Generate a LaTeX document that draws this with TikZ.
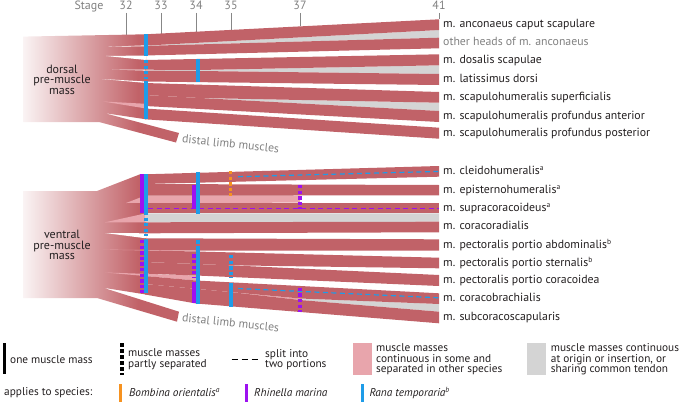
\documentclass[tikz,border=0pt]{standalone}
\usepackage{fontspec}
\setmainfont{PT Sans}
\definecolor{bandred}{RGB}{193,98,104}
\definecolor{pinkc}{RGB}{232,165,172}
\definecolor{grayc}{RGB}{212,212,212}
\definecolor{blueb}{RGB}{30,156,232}
\definecolor{purp}{RGB}{157,17,240}
\definecolor{orng}{RGB}{246,146,32}
\definecolor{tickg}{RGB}{135,135,135}
\definecolor{txtg}{RGB}{128,128,128}
\definecolor{ink}{RGB}{35,31,32}
\newcommand{\supx}[1]{\raisebox{4pt}{\fontsize{7.5}{7.5}\selectfont #1}}
\begin{document}
\begin{tikzpicture}[x=1pt,y=-1pt,
  txt/.style={inner sep=0pt, text=ink, font=\fontsize{11.8}{11.8}\selectfont, text height=8pt, text depth=2.7pt},
  lab/.style={txt, anchor=west},
  graylab/.style={lab, text=txtg},
  stagelab/.style={txt, text=txtg, font=\fontsize{12}{12}\selectfont},
  masslab/.style={inner sep=0pt, text=ink, align=center, font=\fontsize{12}{10.6}\selectfont},
  distlab/.style={lab, text=txtg, rotate=-6},
  legtxt/.style={inner sep=0pt, text=ink, anchor=west, align=left, font=\fontsize{11.3}{10.4}\selectfont},
  tickline/.style={draw=tickg, line width=0.8pt},
  bandfill/.style={fill=bandred},
  dotted bar/.style={line width=3.7pt, dash pattern=on 3.3pt off 2.3pt},
  splitline/.style={line width=1.2pt, dash pattern=on 5pt off 3.5pt}]
\useasboundingbox (0,0) rectangle (685,404);

% ---------------- stage axis ----------------
\node[stagelab] (stg) at (89,7.3) {Stage};
\node[stagelab] (s32) at (126,7.3) {32};
\node[stagelab] (s33) at (161,7.3) {33};
\node[stagelab] (s34) at (196,7.3) {34};
\node[stagelab] (s35) at (231,7.3) {35};
\node[stagelab] (s37) at (300,7.3) {37};
\node[stagelab] (s41) at (439,7.3) {41};
\coordinate (t32) at (126,34.8);
\coordinate (t33) at (161,33.6);
\coordinate (t34) at (196,31.8);
\coordinate (t35) at (231,30.0);
\coordinate (t37) at (300,26.5);
\coordinate (t41) at (439,19.4);
\foreach \n in {32,33,34,35,37,41} \draw[tickline] (s\n.south) -- (t\n);

% ---------------- dorsal mass ----------------
\begin{scope}
  \clip (23,36.6) -- (146,34.3) -- (146,119.3) -- (104,113) -- (179,133) -- (176,142.5) -- (99,122) -- (23,122) -- cycle;
  \shade[left color=white, right color=bandred] (14,30) rectangle (138,150);
  \fill[bandred] (137.5,30) rectangle (200,150);
\end{scope}
% slits
\fill[white] (108,46.8) -- (146,45.3) -- (146,46.3) -- cycle;
\fill[white] (106,56) -- (146,55.5) -- (146,60) -- cycle;
\fill[white] (112,69.5) -- (146,69.7) -- (146,70.6) -- cycle;
\fill[white] (102,79) -- (146,81.5) -- (146,83) -- cycle;
\fill[pinkc] (103,101.5) -- (146,103.8) -- (146,108.5) -- cycle;
% gray wedges
\fill[grayc] (145,45.6) -- (439,30) -- (439,37.7) -- (145,45.9) -- cycle;
\fill[grayc] (145,69.7) -- (198,70) -- (439,65.3) -- (439,74) -- (198,71) -- (145,70.6) -- cycle;
\fill[grayc] (200,98) -- (439,102.7) -- (439,111) -- cycle;
% bands
\fill[bandfill] (145,34.3) -- (439,19.3) -- (439,30) -- (145,45.6) -- cycle;
\fill[bandfill] (145,45.9) -- (439,37.7) -- (439,48.3) -- (145,55.5) -- cycle;
\fill[bandfill] (145,60) -- (439,54.3) -- (439,65.3) -- (198,70) -- (145,69.7) -- cycle;
\fill[bandfill] (145,70.6) -- (198,71) -- (439,74) -- (439,85) -- (145,81.5) -- cycle;
\fill[bandfill] (145,83) -- (439,92) -- (439,102.7) -- (200,98) -- (145,95) -- cycle;
\fill[bandfill] (145,95) -- (200,98) -- (439,111) -- (439,122) -- (145,106) -- cycle;
\fill[bandfill] (145,108.5) -- (439,127.7) -- (439,138.7) -- (145,119.3) -- cycle;
% bars
\fill[blueb] (144,34.3) rectangle (147.7,56);
\draw[blueb, dotted bar] (145.85,60) -- (145.85,79);
\fill[blueb] (144,80.5) rectangle (147.7,119.3);
\fill[blueb] (196,59.3) rectangle (200,82.3);

% ---------------- ventral mass ----------------
\begin{scope}
  \clip (23,191) -- (97,191) -- (140,174.3) -- (146,174.3) -- (146,294.5) -- (103,287.7) -- (179,311.7) -- (177,321.7) -- (97,298) -- (23,298) -- cycle;
  \shade[left color=white, right color=bandred] (14,170) rectangle (138,330);
  \fill[bandred] (137.5,170) rectangle (200,330);
\end{scope}
% pink / gray / white regions
\fill[pinkc] (126,203) -- (145,195.7) -- (300,195.7) -- (300,202.7) -- cycle;
\fill[pinkc] (105,222.3) -- (146,213.3) -- (146,222.3) -- cycle;
\fill[grayc] (145,213.3) -- (439,213.3) -- (439,221.7) -- (145,222.3) -- cycle;
\fill[white] (105,233) -- (146,233.3) -- (146,238.3) -- cycle;
\fill[pinkc] (103,249.6) -- (196,250.5) -- (196,251.5) -- cycle;
\fill[pinkc] (105,272.5) -- (196,275.5) -- (196,280.5) -- cycle;
\fill[pinkc] (230,292) -- (300,298.5) -- (300,300) -- cycle;
\fill[grayc] (300,298.5) -- (439,304) -- (439,311.7) -- (300,300) -- cycle;
% bands
\fill[bandfill] (145,174.3) -- (439,166) -- (439,176.7) -- (145,184) -- cycle;
\fill[bandfill] (145,184) -- (439,185) -- (439,195.3) -- (145,195.7) -- cycle;
\fill[bandfill] (145,202.7) -- (439,202.7) -- (439,213.3) -- (145,213.3) -- cycle;
\fill[bandfill] (145,222.3) -- (439,221.7) -- (439,232.3) -- (145,233.3) -- cycle;
\fill[bandfill] (145,238.3) -- (439,239.3) -- (439,250.7) -- (196,250.5) -- (145,250) -- cycle;
\fill[bandfill] (145,250.4) -- (196,251.5) -- (439,257.7) -- (439,268.3) -- (230,265.3) -- (145,262) -- cycle;
\fill[bandfill] (145,262) -- (230,265.3) -- (439,275) -- (439,286) -- (196,275.5) -- (145,273.6) -- cycle;
\fill[bandfill] (145,276) -- (196,280.5) -- (439,293.3) -- (439,304) -- (300,298.5) -- (230,292) -- (145,284) -- cycle;
\fill[bandfill] (145,284) -- (230,292) -- (300,300) -- (439,311.7) -- (439,323.3) -- (196,303.5) -- (145,294.5) -- cycle;
% split lines
\draw[blueb, splitline] (238,176.7) -- (439,171.4);
\draw[purp, splitline] (148,208.3) -- (439,208.3);
\draw[blueb, splitline] (238,288.5) -- (439,297.8);
% bars stage 32/33
\fill[purp] (140,174.3) rectangle (144,213.3);
\draw[purp, dotted bar, line width=4pt] (142,240) -- (142,293.3);
\fill[blueb] (144,174.3) rectangle (147.7,215);
\draw[blueb, dotted bar] (145.85,217.5) -- (145.85,236);
\fill[blueb] (144,238.5) rectangle (147.7,293.3);
% bars stage 34
\fill[purp] (191.7,185) rectangle (195.7,208.3);
\draw[purp, dotted bar, line width=4pt] (193.7,254.3) -- (193.7,278.3);
\fill[purp] (191.7,281.7) rectangle (195.7,303.3);
\fill[blueb] (195.7,172.3) rectangle (199.7,214);
\fill[blueb] (195.7,240) rectangle (199.7,244);
\fill[blueb] (195.7,246) rectangle (199.7,303.5);
% bars stage 35
\draw[orng, dotted bar, line width=3.4pt] (230.6,171) -- (230.6,196);
\draw[blueb, dotted bar] (230.8,255) -- (230.8,277.5);
\fill[blueb] (229,283.3) rectangle (232.7,306.7);
% bars stage 37
\draw[purp, dotted bar, line width=3.4pt] (300,185) -- (300,208.5);
\draw[purp, dotted bar, line width=3.4pt] (300,287.7) -- (300,311.7);

% ---------------- mass labels ----------------
\node[masslab] (dml) at (62,79.5) {dorsal\\pre-muscle\\mass};
\node[masslab] (vml) at (62,245) {ventral\\pre-muscle\\mass};
\node[distlab] (dd) at (182,140.2) {distal limb muscles};
\node[distlab] (vd) at (182,319) {distal limb muscles};

% ---------------- muscle labels ----------------
\node[lab] (m1) at (443,24.6) {m. anconaeus caput scapulare};
\node[graylab] (m2) at (443,43) {other heads of m. anconaeus};
\node[lab] (m3) at (443,60.5) {m. dosalis scapulae};
\node[lab] (m4) at (443,79.5) {m. latissimus dorsi};
\node[lab] (m5) at (443,97.6) {m. scapulohumeralis superficialis};
\node[lab] (m6) at (443,116.6) {m. scapulohumeralis profundus anterior};
\node[lab] (m7) at (443,134) {m. scapulohumeralis profundus posterior};
\node[lab] (v1) at (443,172) {m. cleidohumeralis\supx{a}};
\node[lab] (v2) at (443,190.5) {m. episternohumeralis\supx{a}};
\node[lab] (v3) at (443,208.5) {m. supracoracoideus\supx{a}};
\node[lab] (v4) at (443,227) {m. coracoradialis};
\node[lab] (v5) at (443,245.5) {m. pectoralis portio abdominalis\supx{b}};
\node[lab] (v6) at (443,263.5) {m. pectoralis portio sternalis\supx{b}};
\node[lab] (v7) at (443,281) {m. pectoralis portio coracoidea};
\node[lab] (v8) at (443,299.3) {m. coracobrachialis};
\node[lab] (v9) at (443,317.8) {m. subcoracoscapularis};

% ---------------- legend ----------------
\fill[black] (3,343.3) rectangle (6,374);
\node[legtxt] (l1) at (10,359.3) {one muscle mass};
\draw[black, line width=3.6pt, dash pattern=on 3.7pt off 2.3pt] (122,343) -- (122,375);
\node[legtxt] (l2) at (128,359.3) {muscle masses\\partly separated};
\draw[black, line width=1.5pt, dash pattern=on 6.5pt off 3.5pt] (231.7,359.3) -- (258.5,359.3);
\node[legtxt] (l3) at (265,359.5) {split into\\two portions};
\fill[pinkc] (353.3,343.3) rectangle (371.7,375);
\node[legtxt] (l4) at (376,359.3) {muscle masses\\continuous in some and\\separated in other species};
\fill[grayc] (527.3,343.3) rectangle (546,375);
\node[legtxt] (l5) at (550.7,359.3) {muscle masses continuous\\at origin or insertion, or\\sharing common tendon};
\node[legtxt] (l6) at (4,392.7) {applies to species:};
\fill[orng] (119,384) rectangle (122,401.7);
\node[legtxt] (l7) at (129,392.7) {\itshape Bombina orientalis\supx{a}};
\fill[purp] (245,384) rectangle (248.3,401.7);
\node[legtxt] (l8) at (254,392.7) {\itshape Rhinella marina};
\fill[blueb] (360.7,383.5) rectangle (364,401.7);
\node[legtxt] (l9) at (369.3,392.7) {\itshape Rana temporaria\supx{b}};
\end{tikzpicture}
\end{document}
